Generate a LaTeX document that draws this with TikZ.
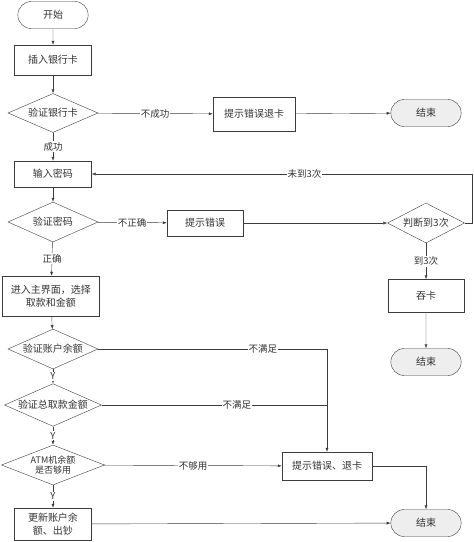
\documentclass[tikz,border=0pt]{standalone}
\usepackage{fontspec}
\newfontfamily\cjk{Noto Sans CJK SC}
\usepackage{xcolor}
\usetikzlibrary{arrows.meta,shapes.geometric,shapes.misc}
\definecolor{flowline}{HTML}{3C3C3C}
\definecolor{flowtext}{HTML}{333333}
\definecolor{endfill}{HTML}{EEEEEE}

\begin{document}
\begin{tikzpicture}[x=1pt, y=-1pt,
  every node/.style={font=\cjk\fontsize{10}{12.5}\selectfont, align=center, text=flowtext},
  procbox/.style={draw=flowline, rectangle, inner sep=1pt},
  decide/.style={draw=flowline, diamond, aspect=2.4, inner sep=0pt},
  term/.style={draw=flowline, rounded rectangle, minimum width=77pt, minimum height=27pt},
  edgelabel/.style={fill=white, inner sep=1pt, font=\cjk\fontsize{9.5}{11}\selectfont},
  flow/.style={draw=flowline, -{Latex[length=4pt,width=3pt]}}]
  \useasboundingbox (0,0) rectangle (474,542);
  % left column
  \node[term, fill=white] (start) at (53,15) {开始};
  \node[procbox, minimum width=77pt, minimum height=30pt] (insert) at (53,60) {插入银行卡};
  \node[decide, minimum width=90pt, minimum height=39pt] (checkcard) at (53,113) {验证银行卡};
  \node[procbox, minimum width=77pt, minimum height=26pt] (pwd) at (53,174) {输入密码};
  \node[decide, minimum width=90pt, minimum height=40pt] (checkpwd) at (53,222) {验证密码};
  \node[procbox, minimum width=97pt, minimum height=40pt] (menu) at (51,296) {进入主界面，选择\\取款和金额};
  \node[decide, minimum width=90pt, minimum height=40pt] (checkbal) at (53,349) {验证账户余额};
  \node[decide, minimum width=97pt, minimum height=39pt, aspect=2.1] (checktotal) at (53,405) {验证总取款金额};
  \node[decide, minimum width=103pt, minimum height=40pt, font=\cjk\fontsize{9}{10.5}\selectfont] (checkatm) at (53,465) {ATM机余额\\是否够用};
  \node[procbox, minimum width=77pt, minimum height=32pt] (update) at (53,524) {更新账户余\\额、出钞};
  % middle and right
  \node[procbox, minimum width=82pt, minimum height=34pt] (failcard) at (254,114) {提示错误退卡};
  \node[term, fill=endfill] (end1) at (426,113) {结束};
  \node[procbox, minimum width=76pt, minimum height=26pt] (pwderr) at (205,223) {提示错误};
  \node[decide, minimum width=77pt, minimum height=40pt] (count) at (426,223) {判断到3次};
  \node[procbox, minimum width=76pt, minimum height=33pt] (swallow) at (426,296) {吞卡};
  \node[term, fill=endfill] (end2) at (426,362) {结束};
  \node[procbox, minimum width=90pt, minimum height=28pt] (errexit) at (327,466) {提示错误、退卡};
  \node[term, fill=endfill] (end3) at (426,523) {结束};
  \coordinate (merge) at (errexit.north |- checktotal.east);

  \draw[flow] (start) -- (insert);
  \draw[flow] (insert) -- (checkcard);
  \draw[flow] (checkcard) -- node[edgelabel] {不成功} (failcard);
  \draw[flow] (failcard) -- (end1);
  \draw[flow] (checkcard) -- node[edgelabel] {成功} (pwd);
  \draw[flow] (pwd) -- (checkpwd);
  \draw[flow] (checkpwd) -- node[edgelabel] {不正确} (pwderr);
  \draw[flow] (pwderr) -- (count);
  \draw[flow] (count.east) -- ++(7,0) |- node[edgelabel, pos=0.72] {未到3次} (pwd.east);
  \draw[flow] (count) -- node[edgelabel] {到3次} (swallow);
  \draw[flow] (swallow) -- (end2);
  \draw[flow] (checkpwd) -- node[edgelabel] {正确} (menu);
  \draw[flow] (menu) -- (checkbal);
  \draw[flow] (checkbal) -- node[edgelabel] {Y} (checktotal);
  \draw[flow] (checktotal) -- node[edgelabel] {Y} (checkatm);
  \draw[flow] (checkatm) -- node[edgelabel] {Y} (update);
  \draw[flow] (checkbal.east) -| node[edgelabel, pos=0.36] {不满足} (errexit.north);
  \draw[draw=flowline] (checktotal.east) -- node[edgelabel, pos=0.6] {不满足} (merge);
  \draw[flow] (checkatm) -- node[edgelabel] {不够用} (errexit);
  \draw[flow] (errexit.east) -| (end3.north);
  \draw[flow] (update) -- (end3);
\end{tikzpicture}
\end{document}
